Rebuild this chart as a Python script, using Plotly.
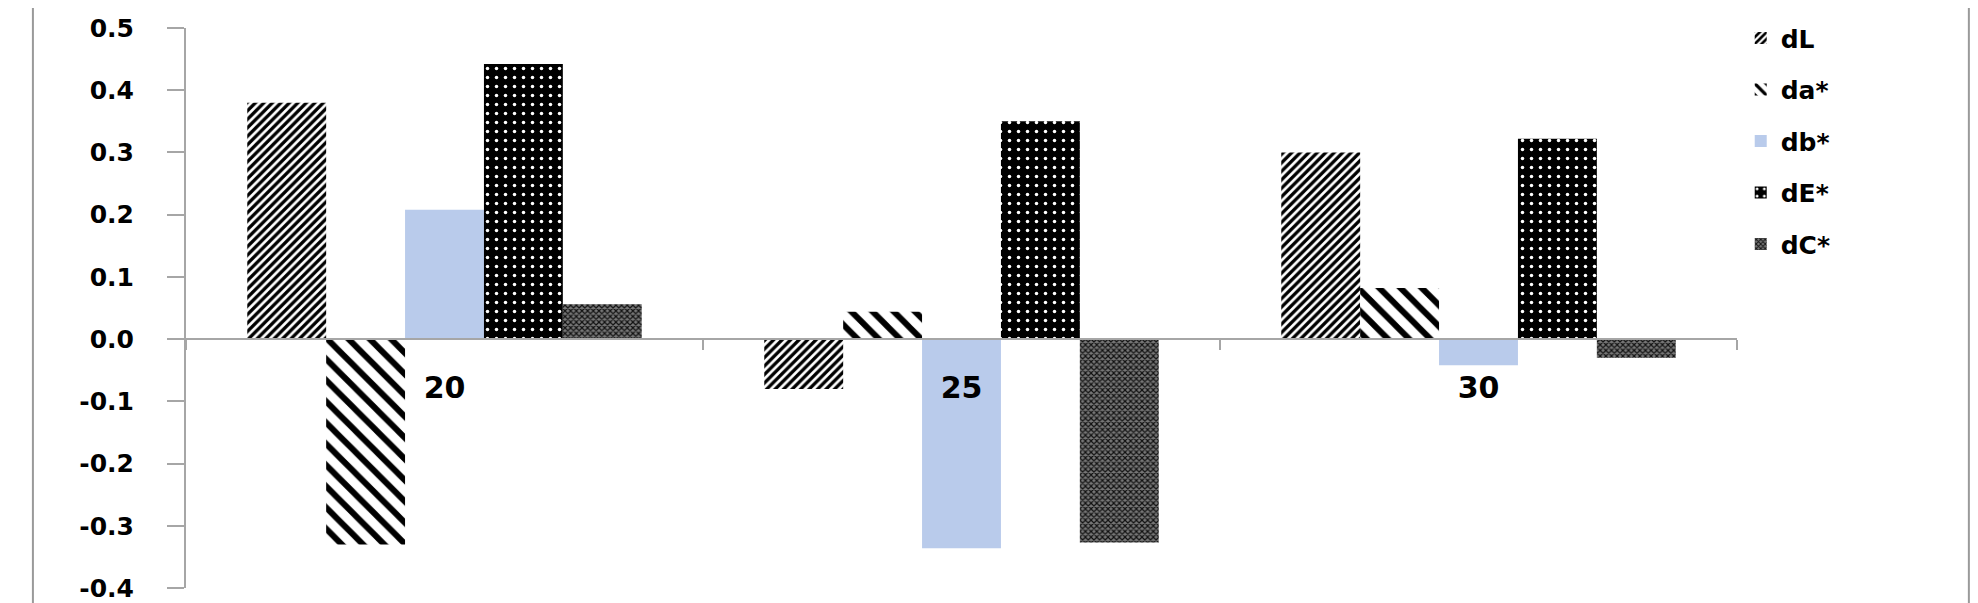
import plotly.graph_objects as go

# ======================================================
# DATA
# ======================================================
categorias = ["20", "25", "30"]

dL = [0.38, -0.08, 0.30]
da = [-0.33, 0.044, 0.082]
db = [0.208, -0.336, -0.042]
dE = [0.442, 0.35, 0.322]
dC = [0.056, -0.327, -0.03]

nomes = ["dL", "da*", "db*", "dE*", "dC*"]

y_ticks = [-0.4, -0.3, -0.2, -0.1, 0.0, 0.1, 0.2, 0.3, 0.4, 0.5]
y_labels = ["-0.4", "-0.3", "-0.2", "-0.1", "0.0", "0.1", "0.2", "0.3", "0.4", "0.5"]

FONTE = "DejaVu Sans"
CINZA = "#a6a6a6"

# --------------------------
# ESTILO DE CADA SERIE
# --------------------------
estilos = [
    dict(color="white", pattern=dict(shape="/", size=6, solidity=0.55, fgopacity=1,
                                     fgcolor="black", bgcolor="white")),
    dict(color="white", pattern=dict(shape="\\", size=15, solidity=0.4, fgopacity=1,
                                     fgcolor="black", bgcolor="white")),
    dict(color="#b9cbeb"),
    dict(color="black", pattern=dict(shape=".", size=9, solidity=0.12, fgopacity=1,
                                     fgcolor="white", bgcolor="black")),
    dict(color="#444444", pattern=dict(shape="x", size=4, solidity=0.5, fgopacity=1,
                                       fgcolor="#111111", bgcolor="#777777")),
]

fig = go.Figure()
for nome, valores, est in zip(nomes, [dL, da, db, dE, dC], estilos):
    fig.add_bar(
        x=categorias,
        y=valores,
        name=nome,
        legendgroup=nome,
        marker=dict(line=dict(width=0), **est),
    )

# --------------------------
# BORDAS DA AREA DO GRAFICO
# --------------------------
for xb in [-0.0987, 1.1495]:
    fig.add_shape(type="line", xref="paper", yref="paper",
                  x0=xb, x1=xb, y0=-0.1, y1=1.1,
                  line=dict(color="#9a9a9a", width=2))

fig.update_layout(
    width=1978,
    height=603,
    margin=dict(l=178, r=249, t=20, b=23),
    plot_bgcolor="white",
    paper_bgcolor="white",
    barmode="group",
    bargap=0.237,
    bargroupgap=0,
    font=dict(family=FONTE, color="black"),
    showlegend=True,
    legend=dict(
        xref="container", x=0.876, xanchor="left",
        yref="container", y=0.988, yanchor="top",
        font=dict(size=25, family=FONTE, weight="bold"),
        tracegroupgap=16,
        itemwidth=30,
        bgcolor="rgba(0,0,0,0)",
    ),
    xaxis=dict(
        type="category",
        anchor="free",
        position=0.4 / 0.9,
        automargin=False,
        showline=True,
        linecolor=CINZA,
        linewidth=2,
        ticks="outside",
        tickson="boundaries",
        ticklen=10,
        tickcolor=CINZA,
        tickwidth=2,
        ticklabelstandoff=22,
        tickfont=dict(size=30, family=FONTE, weight="bold"),
        showgrid=False,
        zeroline=False,
    ),
    yaxis=dict(
        range=[-0.4, 0.5],
        automargin=False,
        tickvals=y_ticks,
        ticktext=y_labels,
        showline=True,
        linecolor=CINZA,
        linewidth=2,
        ticks="outside",
        ticklen=17,
        tickcolor=CINZA,
        tickwidth=2,
        ticklabelstandoff=28,
        tickfont=dict(size=25, family=FONTE, weight="bold"),
        showgrid=False,
        zeroline=False,
    ),
)

fig.write_html("out.html")
